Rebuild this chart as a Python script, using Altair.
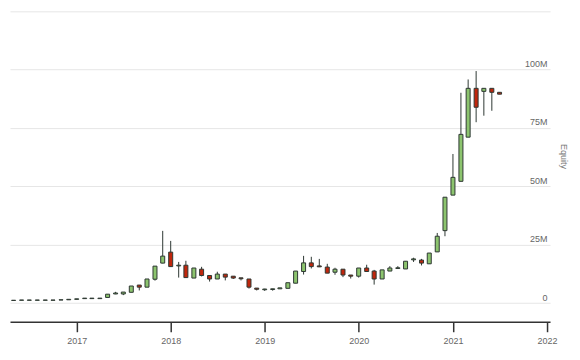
import altair as alt
import pandas as pd

months = pd.date_range("2016-05-01", "2021-07-01", freq="MS").strftime("%Y-%m-%d").tolist()

open_m = [1.1, 1.2, 1.2, 1.2, 1.2, 1.2, 1.3, 1.4,
          1.6, 1.9, 1.9, 1.9, 2.4, 3.9, 3.9, 4.6, 7.7, 6.8, 10.2, 17.1,
          21.8, 15.9, 16.2, 10.7, 14.5, 11.8, 10.3, 12.4, 11.5, 10.8, 10.3, 6.4,
          5.7, 5.8, 6.1, 6.3, 8.5, 13.5, 17.2, 15.9, 15.4, 13.2, 14.5, 12.0,
          11.5, 15.0, 13.7, 10.3, 13.7, 14.8, 14.6, 18.5, 18.4, 16.8, 21.9, 31.0,
          46.2, 52.1, 71.0, 91.9, 90.6, 91.9, 90.2]
high_m = [1.2, 1.3, 1.3, 1.3, 1.3, 1.3, 1.4, 1.6,
          1.8, 2.1, 2.1, 2.1, 3.8, 4.8, 4.7, 7.3, 7.7, 10.3, 15.8, 30.9,
          26.6, 17.6, 18.1, 15.0, 15.5, 11.8, 13.4, 12.4, 11.5, 10.8, 10.3, 6.4,
          6.1, 6.1, 6.5, 8.7, 13.7, 20.2, 19.8, 18.9, 16.8, 15.1, 14.5, 12.0,
          15.0, 16.4, 14.2, 14.2, 15.8, 15.8, 17.9, 19.4, 18.9, 21.4, 30.0, 45.3,
          63.8, 90.0, 95.7, 99.3, 91.9, 91.9, 90.2]
low_m = [1.1, 1.2, 1.2, 1.2, 1.2, 1.2, 1.3, 1.4,
         1.6, 1.9, 1.9, 1.9, 2.4, 3.8, 3.4, 4.6, 5.4, 6.8, 9.6, 17.0,
         15.6, 10.9, 10.9, 10.7, 11.4, 9.2, 10.3, 9.7, 10.3, 9.7, 6.2, 5.4,
         5.2, 5.3, 6.0, 6.3, 8.5, 12.2, 14.8, 15.4, 12.8, 12.1, 11.1, 10.5,
         10.9, 13.5, 7.9, 10.3, 13.7, 14.8, 14.6, 17.6, 16.1, 16.8, 21.9, 28.6,
         46.2, 52.1, 71.0, 77.4, 80.2, 82.3, 89.4]
close_m = [1.2, 1.3, 1.3, 1.3, 1.3, 1.3, 1.4, 1.6,
           1.8, 2.1, 2.1, 2.1, 3.8, 4.3, 4.7, 7.3, 6.8, 10.3, 15.8, 20.1,
           15.6, 16.2, 10.9, 15.0, 11.8, 10.3, 12.4, 11.1, 10.7, 10.4, 6.8, 5.9,
           6.0, 6.1, 6.5, 8.7, 13.7, 17.2, 15.6, 15.5, 12.8, 14.5, 12.0, 11.5,
           15.0, 13.5, 10.3, 14.2, 15.0, 15.1, 17.9, 18.9, 17.1, 21.4, 28.6, 45.3,
           53.8, 72.2, 91.9, 83.8, 91.9, 90.2, 89.4]

year_ticks = [2017, 2018, 2019, 2020, 2021, 2022]
y_ticks = [0, 25e6, 50e6, 75e6, 100e6, 125e6]

df = pd.DataFrame({
    "date": months,
    "open": [v * 1e6 for v in open_m],
    "high": [v * 1e6 for v in high_m],
    "low": [v * 1e6 for v in low_m],
    "close": [v * 1e6 for v in close_m],
})

GREEN = "#8cc46e"
RED = "#c0260c"
DARK = "#2e3833"

x_scale = alt.Scale(domain=[alt.DateTime(year=2016, month=4, date=17),
                            alt.DateTime(year=2022, month=1, date=13)],
                    padding=0)
y_scale = alt.Scale(domain=[-8.0e6, 125.3e6], nice=False, zero=False)

x_axis = alt.Axis(
    title=None, format="%Y", values=[alt.DateTime(year=t, month=1, date=1) for t in year_ticks],
    grid=False, domainColor="#333333", domainWidth=1.5, tickColor="#333333", tickWidth=1.5,
    tickSize=10, labelColor="#666666", labelFont="Liberation Sans", labelFontSize=9,
    labelPadding=5,
)
y_axis = alt.Axis(
    title="Equity", orient="right", values=y_ticks, domain=False, ticks=False,
    gridColor="#e6e6e6", gridWidth=1,
    labelExpr="datum.value >= 125000000 ? '' : (datum.value == 0 ? '0' : format(datum.value / 1000000, 'd') + 'M')",
    labelAlign="right", labelBaseline="bottom", labelPadding=-3, labelOffset=-1,
    labelColor="#666666", labelFont="Liberation Sans", labelFontSize=9,
    titleColor="#777777", titleFont="Liberation Sans", titleFontSize=9, titleFontWeight="normal",
    titleAngle=90, titleX=13, titleY=146, titleAlign="center", titleBaseline="middle",
)

base = alt.Chart(df).encode(
    x=alt.X("date:T", scale=x_scale, axis=x_axis),
)

wicks = base.mark_rule(color=DARK, strokeWidth=1).encode(
    y=alt.Y("low:Q", scale=y_scale, axis=y_axis),
    y2="high:Q",
)

bodies = base.mark_bar(size=4, stroke=DARK, strokeWidth=1).encode(
    y=alt.Y("open:Q", scale=y_scale),
    y2="close:Q",
    color=alt.condition("datum.close >= datum.open", alt.value(GREEN), alt.value(RED)),
)

chart = alt.layer(wicks, bodies).properties(
    width=541, height=312,
    padding={"left": 2, "top": 2, "right": 5, "bottom": 5},
).configure_view(stroke=None)

chart.save("out.html", embed_options={"renderer": "svg", "actions": False})
